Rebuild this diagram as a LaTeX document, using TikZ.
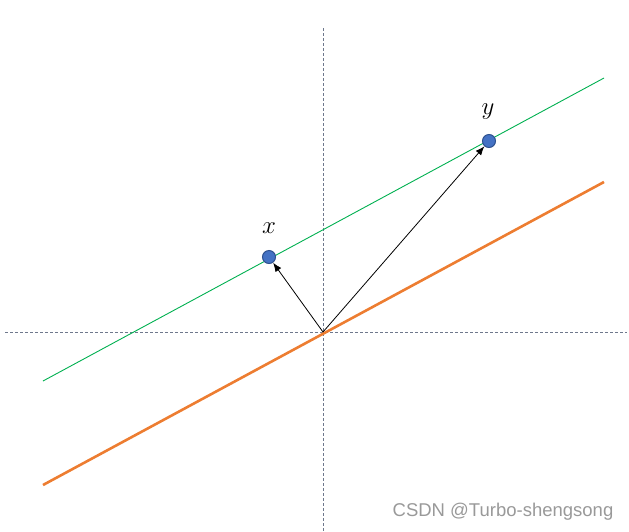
\documentclass[tikz,border=0pt]{standalone}
\usepackage{fontspec}
\newfontfamily\wmfont{Liberation Sans}
\usetikzlibrary{arrows.meta}
\definecolor{axisgray}{RGB}{110,120,140}
\definecolor{lineg}{RGB}{0,176,80}
\definecolor{lineo}{RGB}{237,125,49}
\definecolor{dotfill}{RGB}{68,114,196}
\definecolor{dotedge}{RGB}{47,82,143}
\begin{document}
\begin{tikzpicture}[x=1pt, y=-1pt, >={Latex[length=9pt,width=7pt]},
        axis/.style={axisgray, line width=.6pt, dash pattern=on 3pt off 2pt},
        pt/.style={circle, fill=dotfill, draw=dotedge, line width=1pt, minimum size=13pt, inner sep=0pt},
        lbl/.style={font=\fontsize{28}{32}\selectfont}]
        \useasboundingbox (0,0) rectangle (629,531);
        \coordinate (O) at (323,332);
        \coordinate (ax1) at (5,332);
        \coordinate (ax2) at (627,332);
        \coordinate (ay1) at (323,28);
        \coordinate (ay2) at (323,531);
        \draw[axis] (ax1)--(ax2);
        \draw[axis] (ay1)--(ay2);
        \coordinate (g1) at (43,381);
        \coordinate (g2) at (604,78);
        \draw[lineg, line width=.9pt] (g1)--(g2);
        \coordinate (o1) at (43,485);
        \coordinate (o2) at (604,182);
        \draw[lineo, line width=2.6pt] (o1)--(o2);
        \node[pt] (x) at (269,257) {};
        \node[pt] (y) at (489,141) {};
        \node[lbl] (xl) at (269,228) {$x$};
        \node[lbl] (yl) at (488,112) {$y$};
        \draw[->, line width=.8pt] (O)--(x);
        \draw[->, line width=.8pt] (O)--(y);
        \node[text=gray!80, font=\wmfont\fontsize{18.5}{22}\selectfont] (wm) at (503,512) {CSDN @Turbo-shengsong};
\end{tikzpicture}
\end{document}
